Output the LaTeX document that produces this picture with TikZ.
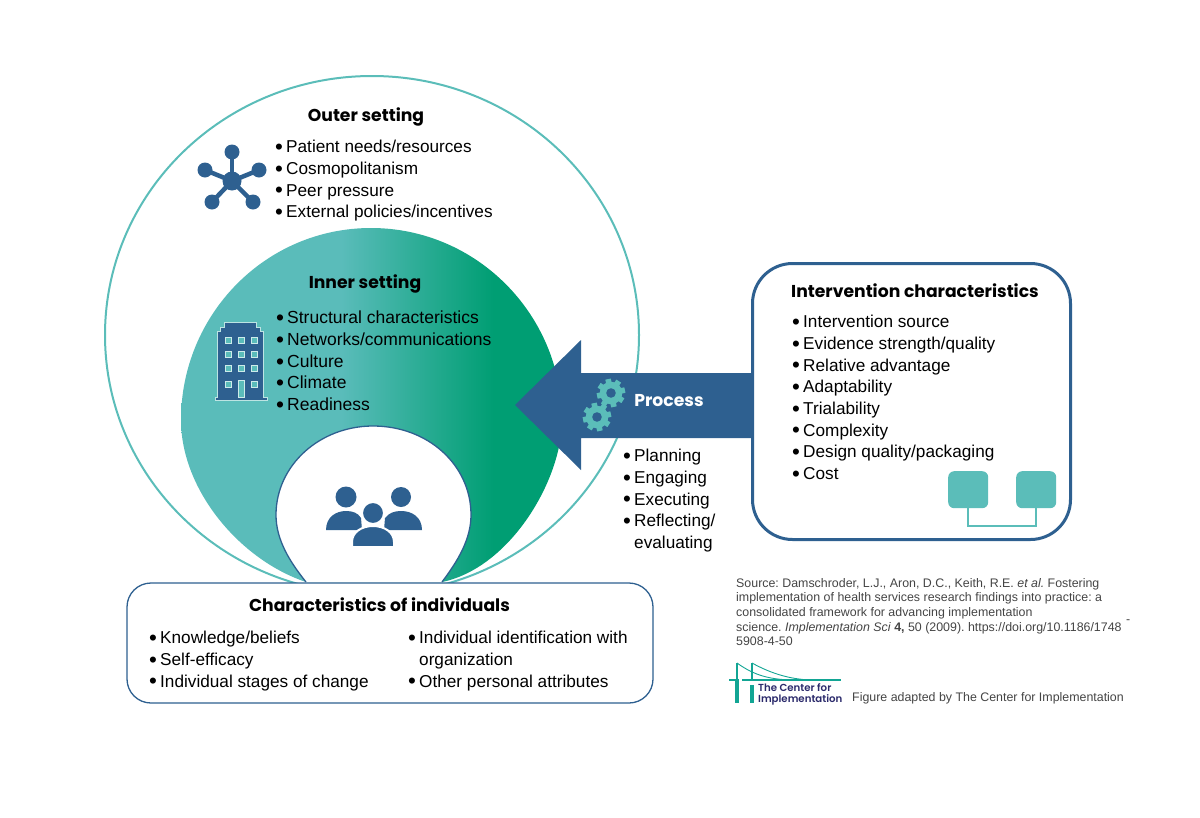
\documentclass[tikz,border=0pt]{standalone}
\usepackage{fontspec}
\usepackage{graphicx}
\setmainfont{Liberation Sans}
\newfontfamily\headfont{Poppins}
\newfontfamily\logofont{Poppins SemiBold}
\usetikzlibrary{positioning}

\definecolor{ringteal}{HTML}{5BBDB9}
\definecolor{innerteal}{HTML}{5ABCBA}
\definecolor{innergreen}{HTML}{009E73}
\definecolor{procblue}{HTML}{2E6090}
\definecolor{notegray}{HTML}{444444}
\definecolor{logoteal}{HTML}{12A594}
\definecolor{logonavy}{HTML}{2B2A6B}

\pgfdeclarehorizontalshading{innerfade}{100bp}{color(0bp)=(innerteal); color(46bp)=(innerteal); color(66bp)=(innergreen); color(100bp)=(innergreen)}

\newcommand{\bul}{\makebox[11pt][l]{\raisebox{-.1em}{\scalebox{1.3}{\textbullet}}}}
\newcommand{\gearicon}[2]{%
    \foreach \a in {0,45,...,315} {
        \fill[ringteal, shift={(#1,#2)}, rotate=\a+12] (-2.8,-14.2) rectangle (2.8,0);
    }
    \fill[ringteal] (#1,#2) circle (11.3);
    \fill[procblue] (#1,#2) circle (4.8);
}

\tikzset{
    heading/.style={font=\headfont\bfseries\fontsize{17.2}{20}\selectfont, inner sep=0pt, anchor=base},
    itemlist/.style={font=\fontsize{17.2}{21.7}\selectfont, align=left, anchor=north west, inner sep=0pt},
    note/.style={font=\fontsize{12.4}{14.7}\selectfont\frenchspacing, text=notegray, align=left, anchor=north west, inner sep=0pt},
    icon/.style={fill=procblue, draw=none},
    window/.style={fill=innerteal, draw=white!70!innerteal, line width=0.5pt},
    tealbox/.style={fill=ringteal, rounded corners=6pt, minimum width=40pt, minimum height=37pt, inner sep=0pt},
}

\begin{document}
\begin{tikzpicture}[x=1pt, y=-1pt]
    \useasboundingbox (0,0) rectangle (1200,817);

    % outer ring
    \draw[ringteal, line width=2pt] (372,335) ellipse [x radius=267, y radius=259];

    % inner setting, then the bubble over it
    \path[shading=innerfade] (306,582) .. controls (240,560) and (181,490) .. (181,420)
        .. controls (181,315) and (265,228) .. (371,228)
        .. controls (477,228) and (562,315) .. (562,420)
        .. controls (562,480) and (510,568) .. (442,582) -- cycle;
    \draw[procblue, fill=white, line width=1.3pt] (306,582) .. controls (290,562) and (276,540) .. (276,515)
        .. controls (276,465) and (320,426) .. (373,426)
        .. controls (428,426) and (471,465) .. (471,515)
        .. controls (471,540) and (457,562) .. (442,582);

    % characteristics box
    \node[draw=procblue, fill=white, line width=1.3pt, rounded corners=24pt, minimum width=526pt, minimum height=120pt, anchor=north west, inner sep=0pt, outer sep=0pt] (indivbox) at (127,583) {};
    \node[heading] (indivhead) at (379.5,611) {Characteristics of individuals};
    \node[itemlist] (indivleft) at (149,631) {\bul Knowledge/beliefs\\\bul Self-efficacy\\\bul Individual stages of change};
    \node[itemlist] (indivright) at (408,631) {\bul Individual identification with\\\hspace{11pt}organization\\\bul Other personal attributes};

    % intervention box
    \node[draw=procblue, fill=white, line width=3pt, rounded corners=40pt, minimum width=318pt, minimum height=276pt, anchor=north west, inner sep=0pt, outer sep=0pt] (intbox) at (752.5,263.5) {};
    \node[heading] (inthead) at (915,297) {Intervention characteristics};
    \node[itemlist] (intlist) at (792,315) {\bul Intervention source\\\bul Evidence strength/quality\\\bul Relative advantage\\\bul Adaptability\\\bul Trialability\\\bul Complexity\\\bul Design quality/packaging\\\bul Cost};
    \node[tealbox, anchor=north west] (boxa) at (948,471) {};
    \node[tealbox, anchor=north west] (boxb) at (1016,471) {};
    \draw[ringteal, line width=2pt] (boxa.south) -- ++(0,18) -| (boxb.south);

    % process arrow
    \fill[procblue] (515,405) -- (581,340) -- (581,373) -- (752,373) -- (752,438) -- (581,438) -- (581,470) -- cycle;
    \gearicon{611}{393}
    \gearicon{597}{417}
    \node[heading, text=white] (prochead) at (669,406) {Process};
    \node[itemlist] (proclist) at (623,449) {\bul Planning\\\bul Engaging\\\bul Executing\\\bul Reflecting/\\\hspace{11pt}evaluating};

    % outer setting
    \node[heading] (outerhead) at (366,121) {Outer setting};
    \node[itemlist] (outerlist) at (275,140) {\bul Patient needs/resources\\\bul Cosmopolitanism\\\bul Peer pressure\\\bul External policies/incentives};
    \node[icon, circle, minimum size=19pt, inner sep=0pt] (hub) at (232,181) {};
    \foreach \n/\x/\y in {a/232/152, b/259/170, c/253/202, d/212/202, e/205/170} {
        \node[icon, circle, minimum size=15pt, inner sep=0pt] (sat\n) at (\x,\y) {};
        \draw[procblue, line width=4.5pt] (hub.center) -- (sat\n.center);
    }

    % inner setting
    \node[heading] (innerhead) at (365,288) {Inner setting};
    \node[itemlist, font=\fontsize{17.5}{21.7}\selectfont] (innerlist) at (276,311) {\bul Structural characteristics\\\bul Networks/communications\\\bul Culture\\\bul Climate\\\bul Readiness};
    \draw[icon, draw=white!60!innerteal, line width=0.5pt] (215,400) -- (215,397) -- (217,397) -- (217,331) -- (220,331) -- (220,327) -- (224,327) -- (224,322) -- (256,322) -- (256,327) -- (260,327) -- (260,331) -- (263,331) -- (263,397) -- (267,397) -- (267,400) -- cycle;
    \foreach \y in {340,354,368,384} {
        \foreach \x in {228,241,254} {
            \ifnum\y=384 \ifnum\x=241 \else
                \fill[window] (\x-3,\y-3) rectangle (\x+3,\y+3);
            \fi \else
                \fill[window] (\x-3,\y-3) rectangle (\x+3,\y+3);
            \fi
        }
    }
    \fill[window] (238,380) rectangle (244,397);

    % people icon
    \fill[procblue] (346,497) circle (10.5);
    \fill[procblue] (401,497) circle (10);
    \fill[procblue] (326,530) .. controls (326,517) and (336,511) .. (346,511) .. controls (353,511) and (358,513) .. (361,518) -- (362,530) -- cycle;
    \fill[procblue] (422,530) .. controls (422,517) and (412,511) .. (401,511) .. controls (394,511) and (389,513) .. (385,518) -- (384,530) -- cycle;
    \draw[icon, draw=white, line width=2pt] (373,513) circle (11);
    \draw[icon, draw=white, line width=2pt] (352,547) -- (352,542) .. controls (352,532) and (362,526) .. (373,526) .. controls (384,526) and (394,532) .. (394,542) -- (394,547) -- cycle;

    % source note and logo
    \node[note] (source) at (736,578) {Source: Damschroder, L.J., Aron, D.C., Keith, R.E. \textit{et al.} Fostering\\implementation of health services research findings into practice: a\\consolidated framework for advancing implementation\\science. \textit{Implementation Sci} \textbf{4,} 50 (2009). https://doi.org/10.1186/1748\\5908-4-50};
    \node[note] (stray) at (1126,620) {-};
    \draw[logoteal, line width=2.5pt] (729,680) -- (739,680) (742,680) -- (841,680);
    \draw[logoteal, line width=2.5pt] (737,663) -- (737,680) (752,663) -- (752,680);
    \draw[logoteal, line width=3.2pt] (737,680) -- (737,703) (752,685) -- (752,703);
    \draw[logoteal, line width=0.9pt] (737,663) .. controls (755,676) and (770,679) .. (790,680);
    \draw[logoteal, line width=0.9pt] (752,663) .. controls (772,674) and (790,679) .. (810,680);
    \node[font=\logofont\fontsize{10.2}{11}\selectfont, text=logonavy, align=left, anchor=north west, inner sep=0pt] (logotext) at (758,683) {The Center for\\Implementation};
    \node[note, anchor=west] (adapted) at (852,698) {Figure adapted by The Center for Implementation};
\end{tikzpicture}
\end{document}
